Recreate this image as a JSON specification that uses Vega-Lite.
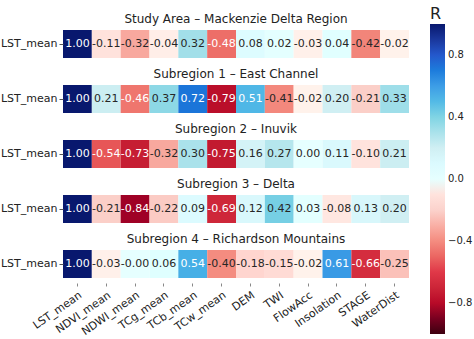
{
  "$schema": "https://vega.github.io/schema/vega-lite/v6.json",
  "padding": {"left": 0, "top": 6, "right": 2, "bottom": 5},
  "background": "white",
  "config": {
    "view": {"stroke": null},
    "font": "DejaVu Sans",
    "title": {"fontSize": 12, "fontWeight": "normal", "color": "#222222", "offset": 4, "anchor": "middle", "font": "DejaVu Sans"},
    "concat": {"spacing": 10}
  },
  "data": {"values": [
    {"region": "Study Area", "target": "LST_mean", "var": "LST_mean", "value": 1.00, "label": "1.00"},
    {"region": "Study Area", "target": "LST_mean", "var": "NDVI_mean", "value": -0.11, "label": "-0.11"},
    {"region": "Study Area", "target": "LST_mean", "var": "NDWI_mean", "value": -0.32, "label": "-0.32"},
    {"region": "Study Area", "target": "LST_mean", "var": "TCg_mean", "value": -0.04, "label": "-0.04"},
    {"region": "Study Area", "target": "LST_mean", "var": "TCb_mean", "value": 0.32, "label": "0.32"},
    {"region": "Study Area", "target": "LST_mean", "var": "TCw_mean", "value": -0.48, "label": "-0.48"},
    {"region": "Study Area", "target": "LST_mean", "var": "DEM", "value": 0.08, "label": "0.08"},
    {"region": "Study Area", "target": "LST_mean", "var": "TWI", "value": 0.02, "label": "0.02"},
    {"region": "Study Area", "target": "LST_mean", "var": "FlowAcc", "value": -0.03, "label": "-0.03"},
    {"region": "Study Area", "target": "LST_mean", "var": "Insolation", "value": 0.04, "label": "0.04"},
    {"region": "Study Area", "target": "LST_mean", "var": "STAGE", "value": -0.42, "label": "-0.42"},
    {"region": "Study Area", "target": "LST_mean", "var": "WaterDist", "value": -0.02, "label": "-0.02"},
    {"region": "Sub1", "target": "LST_mean", "var": "LST_mean", "value": 1.00, "label": "1.00"},
    {"region": "Sub1", "target": "LST_mean", "var": "NDVI_mean", "value": 0.21, "label": "0.21"},
    {"region": "Sub1", "target": "LST_mean", "var": "NDWI_mean", "value": -0.46, "label": "-0.46"},
    {"region": "Sub1", "target": "LST_mean", "var": "TCg_mean", "value": 0.37, "label": "0.37"},
    {"region": "Sub1", "target": "LST_mean", "var": "TCb_mean", "value": 0.72, "label": "0.72"},
    {"region": "Sub1", "target": "LST_mean", "var": "TCw_mean", "value": -0.79, "label": "-0.79"},
    {"region": "Sub1", "target": "LST_mean", "var": "DEM", "value": 0.51, "label": "0.51"},
    {"region": "Sub1", "target": "LST_mean", "var": "TWI", "value": -0.41, "label": "-0.41"},
    {"region": "Sub1", "target": "LST_mean", "var": "FlowAcc", "value": -0.02, "label": "-0.02"},
    {"region": "Sub1", "target": "LST_mean", "var": "Insolation", "value": 0.20, "label": "0.20"},
    {"region": "Sub1", "target": "LST_mean", "var": "STAGE", "value": -0.21, "label": "-0.21"},
    {"region": "Sub1", "target": "LST_mean", "var": "WaterDist", "value": 0.33, "label": "0.33"},
    {"region": "Sub2", "target": "LST_mean", "var": "LST_mean", "value": 1.00, "label": "1.00"},
    {"region": "Sub2", "target": "LST_mean", "var": "NDVI_mean", "value": -0.54, "label": "-0.54"},
    {"region": "Sub2", "target": "LST_mean", "var": "NDWI_mean", "value": -0.73, "label": "-0.73"},
    {"region": "Sub2", "target": "LST_mean", "var": "TCg_mean", "value": -0.32, "label": "-0.32"},
    {"region": "Sub2", "target": "LST_mean", "var": "TCb_mean", "value": 0.30, "label": "0.30"},
    {"region": "Sub2", "target": "LST_mean", "var": "TCw_mean", "value": -0.75, "label": "-0.75"},
    {"region": "Sub2", "target": "LST_mean", "var": "DEM", "value": 0.16, "label": "0.16"},
    {"region": "Sub2", "target": "LST_mean", "var": "TWI", "value": 0.27, "label": "0.27"},
    {"region": "Sub2", "target": "LST_mean", "var": "FlowAcc", "value": 0.00, "label": "0.00"},
    {"region": "Sub2", "target": "LST_mean", "var": "Insolation", "value": 0.11, "label": "0.11"},
    {"region": "Sub2", "target": "LST_mean", "var": "STAGE", "value": -0.10, "label": "-0.10"},
    {"region": "Sub2", "target": "LST_mean", "var": "WaterDist", "value": 0.21, "label": "0.21"},
    {"region": "Sub3", "target": "LST_mean", "var": "LST_mean", "value": 1.00, "label": "1.00"},
    {"region": "Sub3", "target": "LST_mean", "var": "NDVI_mean", "value": -0.21, "label": "-0.21"},
    {"region": "Sub3", "target": "LST_mean", "var": "NDWI_mean", "value": -0.84, "label": "-0.84"},
    {"region": "Sub3", "target": "LST_mean", "var": "TCg_mean", "value": -0.22, "label": "-0.22"},
    {"region": "Sub3", "target": "LST_mean", "var": "TCb_mean", "value": 0.09, "label": "0.09"},
    {"region": "Sub3", "target": "LST_mean", "var": "TCw_mean", "value": -0.69, "label": "-0.69"},
    {"region": "Sub3", "target": "LST_mean", "var": "DEM", "value": 0.12, "label": "0.12"},
    {"region": "Sub3", "target": "LST_mean", "var": "TWI", "value": 0.42, "label": "0.42"},
    {"region": "Sub3", "target": "LST_mean", "var": "FlowAcc", "value": 0.03, "label": "0.03"},
    {"region": "Sub3", "target": "LST_mean", "var": "Insolation", "value": -0.08, "label": "-0.08"},
    {"region": "Sub3", "target": "LST_mean", "var": "STAGE", "value": 0.13, "label": "0.13"},
    {"region": "Sub3", "target": "LST_mean", "var": "WaterDist", "value": 0.20, "label": "0.20"},
    {"region": "Sub4", "target": "LST_mean", "var": "LST_mean", "value": 1.00, "label": "1.00"},
    {"region": "Sub4", "target": "LST_mean", "var": "NDVI_mean", "value": -0.03, "label": "-0.03"},
    {"region": "Sub4", "target": "LST_mean", "var": "NDWI_mean", "value": -0.00, "label": "-0.00"},
    {"region": "Sub4", "target": "LST_mean", "var": "TCg_mean", "value": 0.06, "label": "0.06"},
    {"region": "Sub4", "target": "LST_mean", "var": "TCb_mean", "value": 0.54, "label": "0.54"},
    {"region": "Sub4", "target": "LST_mean", "var": "TCw_mean", "value": -0.40, "label": "-0.40"},
    {"region": "Sub4", "target": "LST_mean", "var": "DEM", "value": -0.18, "label": "-0.18"},
    {"region": "Sub4", "target": "LST_mean", "var": "TWI", "value": -0.15, "label": "-0.15"},
    {"region": "Sub4", "target": "LST_mean", "var": "FlowAcc", "value": -0.02, "label": "-0.02"},
    {"region": "Sub4", "target": "LST_mean", "var": "Insolation", "value": 0.61, "label": "0.61"},
    {"region": "Sub4", "target": "LST_mean", "var": "STAGE", "value": -0.66, "label": "-0.66"},
    {"region": "Sub4", "target": "LST_mean", "var": "WaterDist", "value": -0.25, "label": "-0.25"}
  ]},
  "vconcat": [
    {
      "title": "Study Area – Mackenzie Delta Region",
      "transform": [{"filter": "datum.region === 'Study Area'"}],
      "width": 346, "height": 28,
      "encoding": {
        "x": {"field": "var", "type": "nominal", "sort": ["LST_mean","NDVI_mean","NDWI_mean","TCg_mean","TCb_mean","TCw_mean","DEM","TWI","FlowAcc","Insolation","STAGE","WaterDist"], "axis": null, "scale": {"paddingInner": 0, "paddingOuter": 0}},
        "y": {"field": "target", "type": "nominal", "axis": {"title": null, "domain": false, "tickSize": 4, "tickColor": "#555", "labelFontSize": 11, "labelColor": "#222", "labelPadding": 2}}
      },
      "layer": [
        {"mark": {"type": "rect"}, "encoding": {"color": {"field": "value", "type": "quantitative", "title": "R",
          "scale": {"type": "linear", "domain": [-1,-0.8,-0.6,-0.4,-0.2,0,0.2,0.4,0.6,0.8,1], "range": ["#3d0010","#b80a28","#e03848","#f48c80","#fbd2cc","#ffffff","#d0eff3","#80d4e4","#3d9de6","#2458cc","#08186e"]},
          "legend": {"orient": "none", "legendX": 367, "legendY": -24, "direction": "vertical", "gradientLength": 310, "gradientThickness": 15, "values": [-0.8,-0.4,0,0.4,0.8], "format": ".1f", "labelFontSize": 10, "labelColor": "#222", "titleFontSize": 16, "titleFontWeight": "normal", "titleColor": "#222", "titlePadding": 2, "titleAnchor": "start", "gradientStrokeWidth": 0, "labelOffset": 3}}}},
        {"mark": {"type": "text", "fontSize": 11}, "encoding": {"text": {"field": "label"}, "color": {"condition": {"test": "abs(datum.value) > 0.45", "value": "white"}, "value": "#262626"}}}
      ]
    },
    {
      "title": "Subregion 1 – East Channel",
      "transform": [{"filter": "datum.region === 'Sub1'"}],
      "width": 346, "height": 28,
      "encoding": {
        "x": {"field": "var", "type": "nominal", "sort": ["LST_mean","NDVI_mean","NDWI_mean","TCg_mean","TCb_mean","TCw_mean","DEM","TWI","FlowAcc","Insolation","STAGE","WaterDist"], "axis": null, "scale": {"paddingInner": 0, "paddingOuter": 0}},
        "y": {"field": "target", "type": "nominal", "axis": {"title": null, "domain": false, "tickSize": 4, "tickColor": "#555", "labelFontSize": 11, "labelColor": "#222", "labelPadding": 2}}
      },
      "layer": [
        {"mark": {"type": "rect"}, "encoding": {"color": {"field": "value", "type": "quantitative", "title": "R"}}},
        {"mark": {"type": "text", "fontSize": 11}, "encoding": {"text": {"field": "label"}, "color": {"condition": {"test": "abs(datum.value) > 0.45", "value": "white"}, "value": "#262626"}}}
      ]
    },
    {
      "title": "Subregion 2 – Inuvik",
      "transform": [{"filter": "datum.region === 'Sub2'"}],
      "width": 346, "height": 28,
      "encoding": {
        "x": {"field": "var", "type": "nominal", "sort": ["LST_mean","NDVI_mean","NDWI_mean","TCg_mean","TCb_mean","TCw_mean","DEM","TWI","FlowAcc","Insolation","STAGE","WaterDist"], "axis": null, "scale": {"paddingInner": 0, "paddingOuter": 0}},
        "y": {"field": "target", "type": "nominal", "axis": {"title": null, "domain": false, "tickSize": 4, "tickColor": "#555", "labelFontSize": 11, "labelColor": "#222", "labelPadding": 2}}
      },
      "layer": [
        {"mark": {"type": "rect"}, "encoding": {"color": {"field": "value", "type": "quantitative", "title": "R"}}},
        {"mark": {"type": "text", "fontSize": 11}, "encoding": {"text": {"field": "label"}, "color": {"condition": {"test": "abs(datum.value) > 0.45", "value": "white"}, "value": "#262626"}}}
      ]
    },
    {
      "title": "Subregion 3 – Delta",
      "transform": [{"filter": "datum.region === 'Sub3'"}],
      "width": 346, "height": 28,
      "encoding": {
        "x": {"field": "var", "type": "nominal", "sort": ["LST_mean","NDVI_mean","NDWI_mean","TCg_mean","TCb_mean","TCw_mean","DEM","TWI","FlowAcc","Insolation","STAGE","WaterDist"], "axis": null, "scale": {"paddingInner": 0, "paddingOuter": 0}},
        "y": {"field": "target", "type": "nominal", "axis": {"title": null, "domain": false, "tickSize": 4, "tickColor": "#555", "labelFontSize": 11, "labelColor": "#222", "labelPadding": 2}}
      },
      "layer": [
        {"mark": {"type": "rect"}, "encoding": {"color": {"field": "value", "type": "quantitative", "title": "R"}}},
        {"mark": {"type": "text", "fontSize": 11}, "encoding": {"text": {"field": "label"}, "color": {"condition": {"test": "abs(datum.value) > 0.45", "value": "white"}, "value": "#262626"}}}
      ]
    },
    {
      "title": "Subregion 4 – Richardson Mountains",
      "transform": [{"filter": "datum.region === 'Sub4'"}],
      "width": 346, "height": 28,
      "encoding": {
        "x": {"field": "var", "type": "nominal", "sort": ["LST_mean","NDVI_mean","NDWI_mean","TCg_mean","TCb_mean","TCw_mean","DEM","TWI","FlowAcc","Insolation","STAGE","WaterDist"], "scale": {"paddingInner": 0, "paddingOuter": 0},
          "axis": {"title": null, "domain": false, "tickSize": 3, "tickColor": "#888", "offset": 5, "labelAngle": -35, "labelAlign": "right", "labelBaseline": "top", "labelFontSize": 11, "labelColor": "#222", "labelPadding": 3}},
        "y": {"field": "target", "type": "nominal", "axis": {"title": null, "domain": false, "tickSize": 4, "tickColor": "#555", "labelFontSize": 11, "labelColor": "#222", "labelPadding": 2}}
      },
      "layer": [
        {"mark": {"type": "rect"}, "encoding": {"color": {"field": "value", "type": "quantitative", "title": "R"}}},
        {"mark": {"type": "text", "fontSize": 11}, "encoding": {"text": {"field": "label"}, "color": {"condition": {"test": "abs(datum.value) > 0.45", "value": "white"}, "value": "#262626"}}}
      ]
    }
  ]
}
